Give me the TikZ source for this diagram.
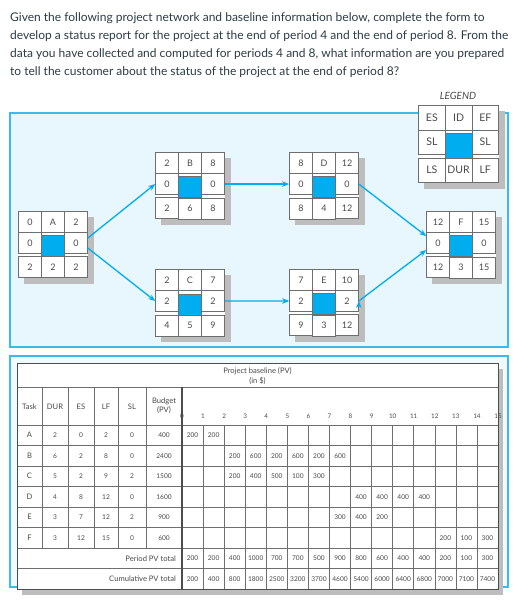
\documentclass[tikz,border=0pt]{standalone}
\usepackage{fontspec}
\setmainfont{Lato}
\usetikzlibrary{matrix,arrows.meta}
\definecolor{netblue}{HTML}{00AEEF}
\definecolor{panelblue}{HTML}{3DB9EA}
\definecolor{panelfill}{HTML}{E8F6FD}
\definecolor{cellgray}{HTML}{6E6E6E}
\definecolor{shadowgray}{HTML}{BDBDBD}
\definecolor{inkgray}{HTML}{4A4A4A}
\definecolor{textcol}{HTML}{2D3B45}
\pgfdeclarelayer{panel}
\pgfdeclarelayer{shade}
\pgfsetlayers{panel,shade,main}
\newcommand{\pw}{21.067}
\tikzset{
  actbox/.style={matrix of nodes, inner sep=0pt, fill=white,
    column sep=-0.6pt, row sep=-0.6pt,
    nodes={draw=cellgray, line width=0.6pt, minimum width=23pt, minimum height=21pt,
      inner sep=0pt, text=inkgray, font=\fontsize{9}{10}\selectfont}},
  hub/.style={fill=netblue},
  flow/.style={-{Stealth[length=7pt,width=5.5pt]}, draw=netblue, line width=1.3pt},
  tabtext/.style={text=inkgray, font=\fontsize{6.6}{9}\selectfont, inner sep=0pt},
  tablabel/.style={tabtext, font=\fontsize{7.6}{9.5}\selectfont},
  tabline/.style={draw=cellgray, line width=0.5pt}
}
\begin{document}
\begin{tikzpicture}[x=1pt,y=-1pt]
\useasboundingbox (0,0) rectangle (519,608);
\foreach \line [count=\i] in {{Given the following project network and baseline information below, complete the form to},
  {develop a status report for the project at the end of period 4 and the end of period 8. From the},
  {data you have collected and computed for periods 4 and 8, what information are you prepared},
  {to tell the customer about the status of the project at the end of period 8?}}
  \node[anchor=base west, inner sep=0pt, text=textcol, font=\fontsize{12}{14}\selectfont] (intro\i) at (10,{21.3+18*(\i-1)}) {\line};

% network
\begin{pgfonlayer}{panel}
\draw[panelblue, fill=panelfill, line width=1.2pt] (10,113) rectangle (508,347);
\end{pgfonlayer}
\matrix (A) [actbox, anchor=north west] at (18,211) {
  0 & A & 2 \\
  0 & |[hub]| \mbox{} & 0 \\
  2 & 2 & 2 \\};
\matrix (B) [actbox, anchor=north west] at (155,152) {
  2 & B & 8 \\
  0 & |[hub]| \mbox{} & 0 \\
  2 & 6 & 8 \\};
\matrix (C) [actbox, anchor=north west] at (155,269) {
  2 & C & 7 \\
  2 & |[hub]| \mbox{} & 2 \\
  4 & 5 & 9 \\};
\matrix (D) [actbox, anchor=north west] at (289,152) {
  8 & D & 12 \\
  0 & |[hub]| \mbox{} & 0 \\
  8 & 4 & 12 \\};
\matrix (E) [actbox, anchor=north west] at (289,269) {
  7 & E & 10 \\
  2 & |[hub]| \mbox{} & 2 \\
  9 & 3 & 12 \\};
\matrix (F) [actbox, anchor=north west] at (426,211) {
  12 & F & 15 \\
  0 & |[hub]| \mbox{} & 0 \\
  12 & 3 & 15 \\};
\path[flow]
  ([yshift=5pt]A-2-3.east) edge (B-2-1.west)
  ([yshift=-5pt]A-2-3.east) edge (C-2-1.west)
  (B-2-3.east) edge (D-2-1.west)
  (C-2-3.east) edge (E-2-1.west)
  (D-2-3.east) edge ([yshift=7pt]F-2-1.west)
  (E-2-3.east) edge ([yshift=-7pt]F-2-1.west);

% legend
\node[text=inkgray, font=\fontsize{10}{12}\selectfont\itshape] (legend) at (458,96) {LEGEND};
\matrix (L) [actbox, anchor=north west, nodes={minimum width=26.7pt, minimum height=24.3pt,
    font=\fontsize{10.5}{12}\selectfont}] at (418,105) {
  ES & ID & EF \\
  SL & |[hub]| \mbox{} & SL \\
  LS & DUR & LF \\};
\begin{pgfonlayer}{shade}
\foreach \m in {A,B,C,D,E,F,L}
  \fill[shadowgray] ([shift={(6pt,-6pt)}]\m.south west) rectangle ([shift={(6pt,-6pt)}]\m.north east);
\end{pgfonlayer}

% baseline table
\begin{pgfonlayer}{panel}
\draw[panelblue, fill=panelfill!60, line width=1.2pt] (10,356) rectangle (508,587);
\end{pgfonlayer}
\begin{pgfonlayer}{shade}
\fill[shadowgray] (22,369) rectangle (503,595);
\end{pgfonlayer}
\fill[white] (17,363) rectangle (498,589);
\foreach \yy in {387,425,445.5,466,486.5,507,527.5,548,568.5}
  \draw[tabline] (17,\yy) -- (498,\yy);
\foreach \xx in {42,68,94,118,146}
  \draw[tabline] (\xx,387) -- (\xx,548);
\foreach \k in {1,...,14}
  \draw[tabline] ({182+\pw*\k},425) -- ({182+\pw*\k},589);
\draw[cellgray!70!black, line width=1.1pt] (182,387) -- (182,589);
\draw[cellgray!70!black, line width=1pt] (17,363) rectangle (498,589);

\node[tablabel] (title) at (257.5,371) {Project baseline (PV)};
\node[tablabel] (unit) at (257.5,381) {(in \$)};
\foreach \h/\xx in {Task/29.5, DUR/55, ES/81, LF/106, SL/132}
  \node[tablabel] (head-\h) at (\xx,407) {\h};
\node[tablabel, align=center] (head-budget) at (164,406) {Budget\\(PV)};
\foreach \k in {0,...,15}
  \node[tabtext, font=\fontsize{6.3}{8}\selectfont] (period-\k) at ({182+\pw*\k},416) {\k};

\foreach \t/\d/\es/\lf/\sl/\bud [count=\r] in {A/2/0/2/0/400, B/6/2/8/0/2400, C/5/2/9/2/1500,
    D/4/8/12/0/1600, E/3/7/12/2/900, F/3/12/15/0/600} {
  \node[tablabel] (\t-task) at (29.5,{425+20.5*(\r-0.5)}) {\t};
  \node[tabtext] (\t-dur) at (55,{425+20.5*(\r-0.5)}) {\d};
  \node[tabtext] (\t-es) at (81,{425+20.5*(\r-0.5)}) {\es};
  \node[tabtext] (\t-lf) at (106,{425+20.5*(\r-0.5)}) {\lf};
  \node[tabtext] (\t-sl) at (132,{425+20.5*(\r-0.5)}) {\sl};
  \node[tabtext] (\t-bud) at (164,{425+20.5*(\r-0.5)}) {\bud};
}
\foreach \t/\s/\vals [count=\r] in {A/0/{200,200}, B/2/{200,600,200,600,200,600},
    C/2/{200,400,500,100,300}, D/8/{400,400,400,400}, E/7/{300,400,200}, F/12/{200,100,300}}
  \foreach \v [count=\k] in \vals
    \node[tabtext] (\t-pv-\k) at ({182+\pw*(\s+\k-0.5)},{425+20.5*(\r-0.5)}) {\v};

\node[tablabel, anchor=east] (total-label) at (176,558.25) {Period PV total};
\node[tablabel, anchor=east] (cum-label) at (176,578.75) {Cumulative PV total};
\foreach \v [count=\k] in {200,200,400,1000,700,700,500,900,800,600,400,400,200,100,300}
  \node[tabtext] (total-\k) at ({182+\pw*(\k-0.5)},558.25) {\v};
\foreach \v [count=\k] in {200,400,800,1800,2500,3200,3700,4600,5400,6000,6400,6800,7000,7100,7400}
  \node[tabtext] (cum-\k) at ({182+\pw*(\k-0.5)},578.75) {\v};
\end{tikzpicture}
\end{document}
